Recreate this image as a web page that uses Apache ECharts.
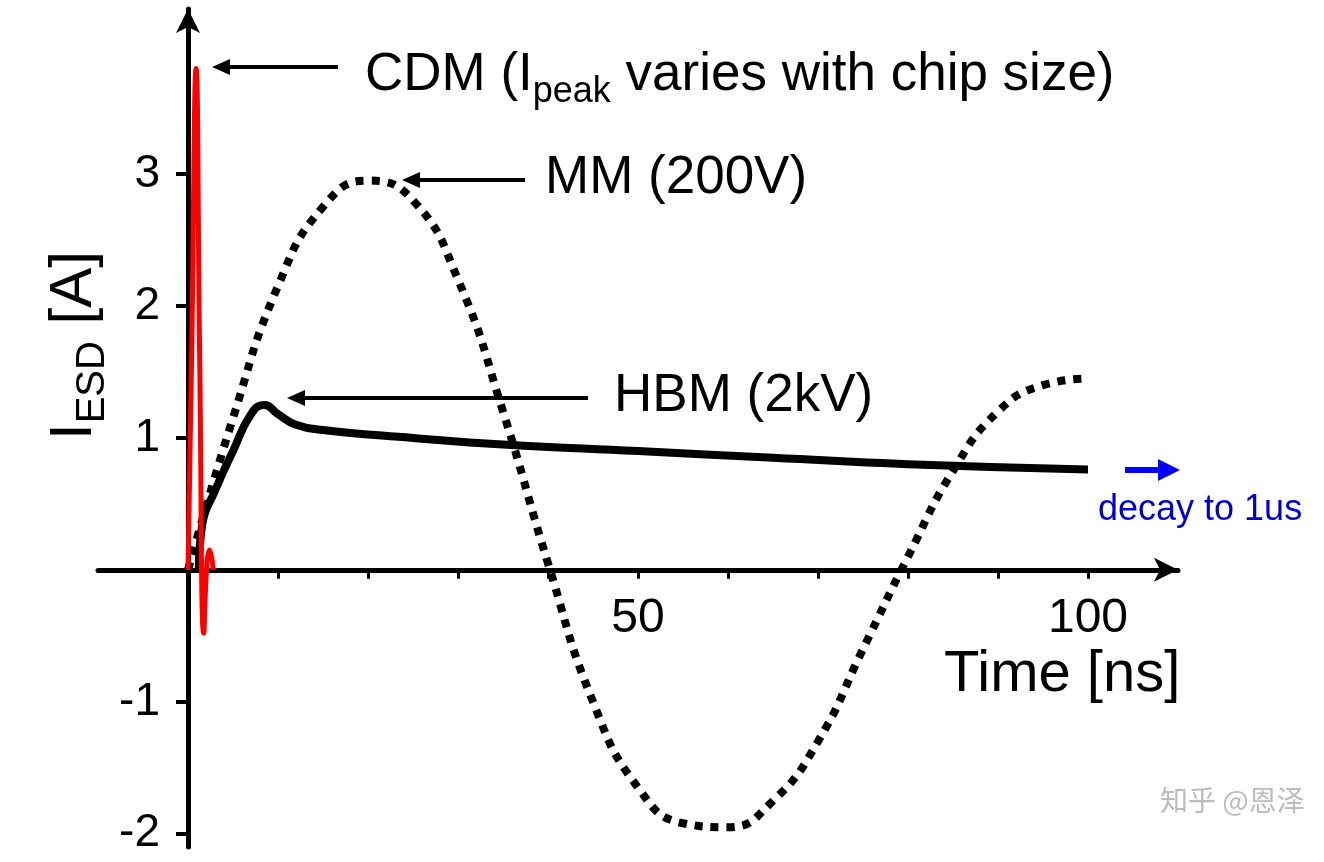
<!DOCTYPE html>
<html><head><meta charset="utf-8">
<script src="https://cdn.jsdelivr.net/npm/echarts@6/dist/echarts.min.js"></script>
<style>html,body{margin:0;background:#fff}#c{width:1324px;height:862px}</style>
</head><body><div id="c"></div>
<script>
// time [ns], current [A]
var cdm = [[0,0],[0.4,1.6],[0.9,3.8],[1.3,1.6],[1.75,-0.48],[2.1,0.05],[2.4,0.15],[2.8,0]];
var mm = [[0,0],[5,1.15],[10,2.15],[15,2.75],[20,2.95],[25,2.8],[30,2.2],[35,1.2],[40,0.05],[45,-1.0],
          [50,-1.65],[55,-1.92],[60,-1.95],[65,-1.75],[70,-1.3],[75,-0.6],[80,0.1],[85,0.75],[90,1.2],[95,1.4],[100,1.45]];
var hbm = [[1.2,0],[1.6,0.35],[3,0.6],[5,0.9],[7,1.18],[8.5,1.25],[10,1.18],[12,1.1],[15,1.06],[25,1.0],
           [35,0.95],[50,0.9],[65,0.85],[80,0.8],[100,0.76]];
var xTicks = [10,20,30,40,50,60,70,80,90,100];
var xLabels = [50,100];
var yTicks = [-2,-1,1,2,3];

var chart = echarts.init(document.getElementById('c'));
var font = 'Liberation Sans, Arial, sans-serif';
chart.setOption({
  animation: false,
  grid: {left: 98, width: 1080, top: 9, height: 838, containLabel: false, outerBoundsMode: 'none'},
  xAxis: {
    type: 'value', min: -10, max: 110, interval: 10,
    splitLine: {show: false},
    axisLine: {onZero: true, lineStyle: {color: '#000', width: 5}, symbol: ['none','arrow'], symbolSize: [18,24]},
    axisTick: {customValues: xTicks, length: 9, lineStyle: {color: '#000', width: 3}},
    // labels sit by the grid edge, pulled up next to the zero line
    axisLabel: {customValues: xLabels, color: '#000', fontSize: 48, fontFamily: font, margin: -252}
  },
  yAxis: {
    type: 'value', min: -2.1, max: 4.25,
    splitLine: {show: false},
    axisLine: {onZero: true, lineStyle: {color: '#000', width: 5}, symbol: ['none','arrow'], symbolSize: [18,24]},
    axisTick: {customValues: yTicks, length: 12, lineStyle: {color: '#000', width: 4}},
    axisLabel: {customValues: yTicks, color: '#000', fontSize: 46, fontFamily: font, margin: -62}
  },
  series: [
    {type: 'line', data: mm, smooth: true, showSymbol: false, lineStyle: {color: '#000', width: 8, type: [8,8]}},
    {type: 'line', data: hbm, smooth: true, showSymbol: false, lineStyle: {color: '#000', width: 8}},
    {type: 'line', data: cdm, smooth: true, showSymbol: false, lineStyle: {color: '#f00', width: 5}}
  ],
  graphic: [
    {type: 'text', x: 365, y: 40, style: {text: 'CDM (I{s|peak} varies with chip size)', font: '53px ' + font, fill: '#000',
      rich: {s: {fontSize: 36, fontFamily: font, padding: [34,0,0,0]}}}},
    {type: 'line', shape: {x1: 338, y1: 67, x2: 225, y2: 67}, style: {stroke: '#000', lineWidth: 4}},
    {type: 'polygon', shape: {points: [[212,67],[230,59],[230,75]]}, style: {fill: '#000'}},
    {type: 'text', x: 545, y: 152, style: {text: 'MM (200V)', font: '53px ' + font, fill: '#000'}},
    {type: 'line', shape: {x1: 525, y1: 180, x2: 415, y2: 180}, style: {stroke: '#000', lineWidth: 4}},
    {type: 'polygon', shape: {points: [[402,180],[420,172],[420,188]]}, style: {fill: '#000'}},
    {type: 'text', x: 614, y: 370, style: {text: 'HBM (2kV)', font: '53px ' + font, fill: '#000'}},
    {type: 'line', shape: {x1: 588, y1: 398, x2: 300, y2: 398}, style: {stroke: '#000', lineWidth: 4}},
    {type: 'polygon', shape: {points: [[287,398],[305,390],[305,406]]}, style: {fill: '#000'}},
    {type: 'line', shape: {x1: 1125, y1: 470, x2: 1160, y2: 470}, style: {stroke: '#00f', lineWidth: 6}},
    {type: 'polygon', shape: {points: [[1180,470],[1158,459],[1158,481]]}, style: {fill: '#00f'}},
    {type: 'text', x: 1098, y: 492, style: {text: 'decay to 1us', font: '36px ' + font, fill: '#0000cc'}},
    {type: 'text', x: 944, y: 646, style: {text: 'Time [ns]', font: '58px ' + font, fill: '#000'}},
    {type: 'text', x: 35, y: 440, rotation: Math.PI / 2, style: {text: 'I{s|ESD} [A]', font: '60px ' + font, fill: '#000',
      rich: {s: {fontSize: 40, fontFamily: font, padding: [38,0,0,0]}}}},
    {type: 'text', x: 1160, y: 786, style: {text: '知乎 @恩泽', font: '28px Noto Sans CJK SC', fill: '#bbb'}}
  ]
});
</script></body></html>
